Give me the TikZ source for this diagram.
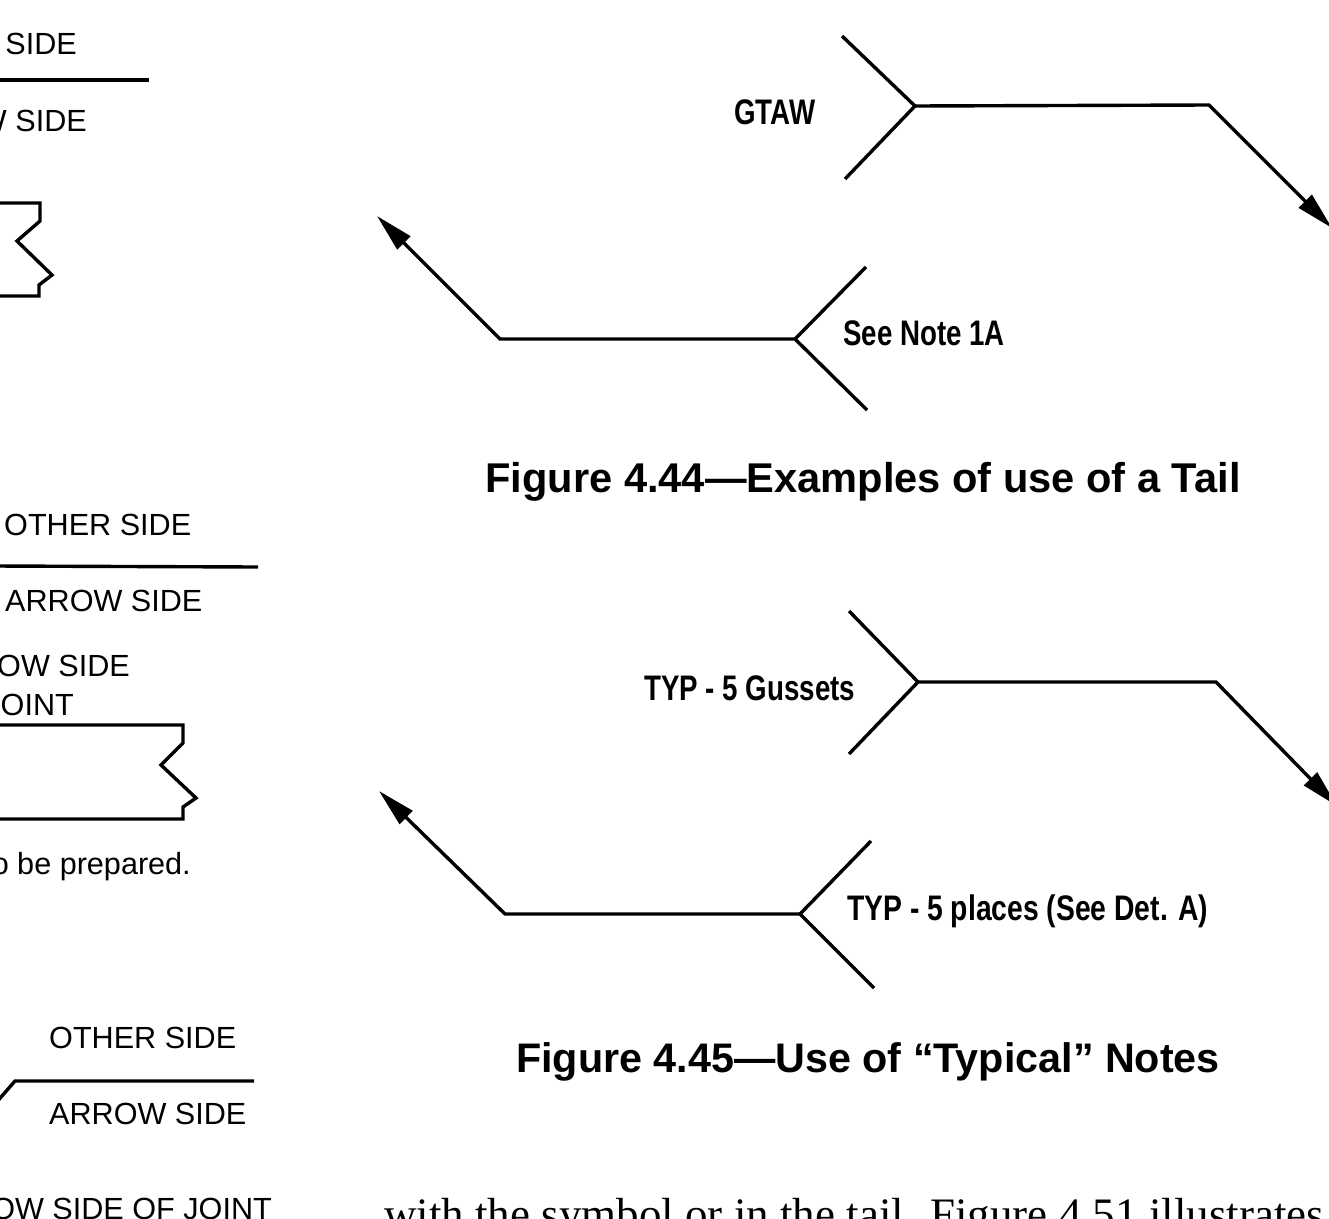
\documentclass[tikz,border=0pt]{standalone}
\usepackage{fontspec}
\setmainfont{Liberation Sans}
\newfontfamily\bodyfont{Liberation Serif}
\usetikzlibrary{arrows.meta}
\newcommand{\narrowtext}[2][0.78]{\scalebox{#1}[1]{\fontsize{35.5}{40}\selectfont\bfseries #2}}
\tikzset{
    leader/.style={line width=3.4pt, line join=miter},
    tiparrow/.style={leader, -{Triangle[length=38pt, width=18pt]}},
    sidetext/.style={inner sep=0pt, font=\fontsize{30.6}{36}\selectfont},
    notetext/.style={inner sep=0pt},
    captiontext/.style={inner sep=0pt, font=\fontsize{41.6}{46}\selectfont\bfseries}
}
\begin{document}
\begin{tikzpicture}[x=1pt, y=-1pt]
    \useasboundingbox (0,0) rectangle (1329,1218);
    \clip (0,0) rectangle (1329,1218);

    % Left column, reference lines
    \coordinate (lineA0) at (-5,80);
    \coordinate (lineA1) at (149,80);
    \draw[line width=4.4pt] (lineA0) -- (lineA1);
    \node[sidetext, anchor=base east] (otherA) at (77,54) {SIDE};
    \node[sidetext, anchor=base east] (arrowA) at (87,131) {W SIDE};

    \coordinate (lineB0) at (-5,566);
    \coordinate (lineB1) at (258,567);
    \draw[leader] (lineB0) -- (lineB1);
    \node[sidetext, anchor=base west] (otherB) at (4,535) {OTHER SIDE};
    \node[sidetext, anchor=base west] (arrowB) at (5,611) {ARROW SIDE};
    \node[sidetext, anchor=base east] (arrowC) at (130,676) {OW SIDE};
    \node[sidetext, anchor=base east] (jointC) at (74,715) {OINT};
    \node[sidetext, anchor=base east] (prepC) at (191,874) {o be prepared.};

    \coordinate (lineD0) at (-5,1104);
    \coordinate (lineD1) at (15,1081);
    \coordinate (lineD2) at (254,1081);
    \draw[leader] (lineD0) -- (lineD1) -- (lineD2);
    \node[sidetext, anchor=base west] (otherD) at (49,1048) {OTHER SIDE};
    \node[sidetext, anchor=base west] (arrowD) at (49,1124) {ARROW SIDE};
    \node[sidetext, anchor=base east] (jointE) at (272,1219) {OW SIDE OF JOINT};

    % Broken plates
    \draw[leader] (-5,203) -- (40,203) -- (40,221) -- (17,241) -- (52,275) -- (39,285) -- (39,296) -- (-5,296);
    \draw[leader] (-5,725) -- (183,725) -- (183,743) -- (161,765) -- (196,798) -- (183,807) -- (183,819) -- (-5,819);

    % Figure 4.44, upper tail
    \coordinate (forkA) at (915,106);
    \coordinate (kneeA) at (1209,105);
    \coordinate (tipA) at (1332,228);
    \coordinate (tailA1) at (842,36);
    \coordinate (tailA2) at (845,179);
    \draw[leader] (tailA1) -- (forkA) -- (tailA2);
    \draw[tiparrow] (forkA) -- (kneeA) -- (tipA);
    \node[notetext, anchor=base west] (noteA) at (734,124) {\narrowtext{GTAW}};

    % Figure 4.44, lower tail
    \coordinate (forkB) at (795,339);
    \coordinate (kneeB) at (500,339);
    \coordinate (tipB) at (377,216);
    \coordinate (tailB1) at (866,267);
    \coordinate (tailB2) at (867,410);
    \draw[leader] (tailB1) -- (forkB) -- (tailB2);
    \draw[tiparrow] (forkB) -- (kneeB) -- (tipB);
    \node[notetext, anchor=base west] (noteB) at (843,345) {\narrowtext{See Note 1A}};

    \node[captiontext, anchor=base] (captionA) at (863,492) {Figure 4.44---Examples of use of a Tail};

    % Figure 4.45, upper tail
    \coordinate (forkC) at (918,682);
    \coordinate (kneeC) at (1216,682);
    \coordinate (tipC) at (1337,806);
    \coordinate (tailC1) at (849,611);
    \coordinate (tailC2) at (849,754);
    \draw[leader] (tailC1) -- (forkC) -- (tailC2);
    \draw[tiparrow] (forkC) -- (kneeC) -- (tipC);
    \node[notetext, anchor=base west] (noteC) at (644,700) {\narrowtext{TYP - 5 Gussets}};

    % Figure 4.45, lower tail
    \coordinate (forkD) at (800,914);
    \coordinate (kneeD) at (505,914);
    \coordinate (tipD) at (379,791);
    \coordinate (tailD1) at (871,841);
    \coordinate (tailD2) at (874,988);
    \draw[leader] (tailD1) -- (forkD) -- (tailD2);
    \draw[tiparrow] (forkD) -- (kneeD) -- (tipD);
    \node[notetext, anchor=base west] (noteD) at (847,920) {\narrowtext[0.797]{TYP - 5 places (See Det. A)}};

    \node[captiontext, anchor=base, font=\fontsize{41.3}{46}\selectfont\bfseries] (captionB) at (868,1072) {Figure 4.45---Use of ``Typical'' Notes};

    % Running text cut by the page
    \node[inner sep=0pt, anchor=base west, font=\bodyfont\fontsize{45}{50}\selectfont] (bodyline) at (384,1229) {with the symbol or in the tail. Figure 4.51 illustrates};
\end{tikzpicture}
\end{document}
